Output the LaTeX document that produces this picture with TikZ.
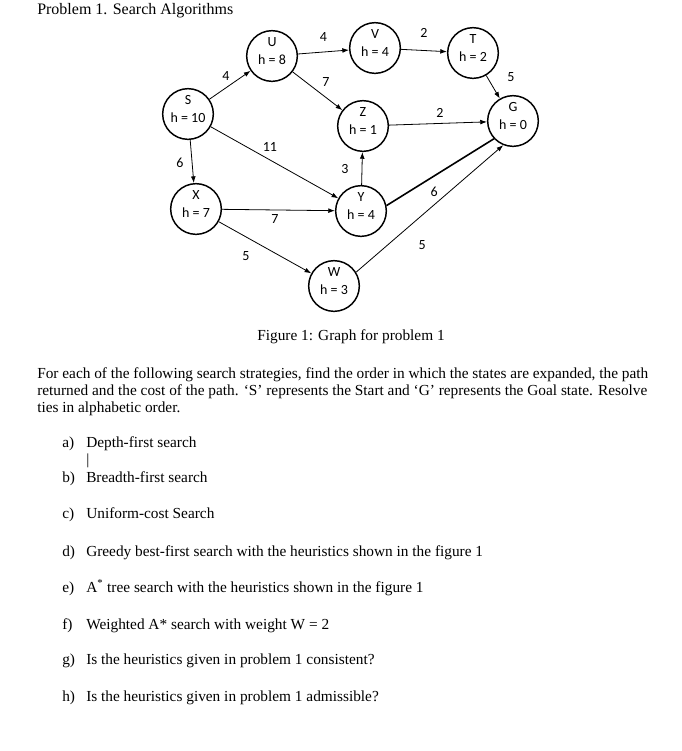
\documentclass[tikz,border=0pt]{standalone}
\usepackage{fontspec}
\setmainfont{Liberation Serif}
\newfontfamily\calfont{Carlito}
\usetikzlibrary{arrows.meta}

\begin{document}
\begin{tikzpicture}[
		x=0.75pt, y=-0.75pt,
		>={Latex[length=5pt,width=3.6pt]},
		state/.style={draw, circle, line width=1.1pt, minimum size=38pt, inner sep=0pt},
		statetext/.style={align=center, yshift=3.4pt, font=\calfont\fontsize{10.5}{13.5}\selectfont},
		cost/.style={font=\calfont\fontsize{10.5}{12}\selectfont, inner sep=0pt},
		edge/.style={->, line width=0.6pt},
		thickedge/.style={line width=1.2pt},
		body/.style={anchor=west, inner sep=0pt, align=left, font=\fontsize{11.5}{12.75}\selectfont},
		item/.style={body},
		]

		\useasboundingbox (0,0) rectangle (682,751);

		\node[body, font=\fontsize{12}{14}\selectfont] (title) at (37,11) {Problem 1. Search Algorithms};

		% states
		\node[state, label={[statetext]center:S\\h = 10}] (S) at (188,114) {};
		\node[state, label={[statetext]center:U\\h = 8}] (U) at (272,56) {};
		\node[state, label={[statetext]center:V\\h = 4}] (V) at (375,48) {};
		\node[state, label={[statetext]center:T\\h = 2}] (T) at (473,53) {};
		\node[state, label={[statetext]center:G\\h = 0}] (G) at (513,121) {};
		\node[state, label={[statetext]center:Z\\h = 1}] (Z) at (363,126) {};
		\node[state, label={[statetext]center:X\\h = 7}] (X) at (196,209) {};
		\node[state, label={[statetext]center:Y\\h = 4}] (Y) at (361,211) {};
		\node[state, label={[statetext]center:W\\h = 3}] (W) at (334,286) {};

		% edges with costs
		\draw[edge] (S) -- node[cost, xshift=-3pt, yshift=6.75pt] {4} (U);
		\draw[edge] (U) -- node[cost, yshift=11pt] {4} (V);
		\draw[edge] (V) -- node[cost, yshift=13.5pt] {2} (T);
		\draw[edge] (T) -- node[cost, xshift=13.5pt, yshift=7.5pt] {5} (G);
		\draw[edge] (U) -- node[cost, xshift=6.4pt, yshift=6.75pt] {7} (Z);
		\draw[edge] (Z) -- node[cost, xshift=1.5pt, yshift=7.9pt] {2} (G);
		\draw[edge] (S) -- node[cost, xshift=-3.4pt, yshift=11.6pt] {11} (Y);
		\draw[edge] (S) -- node[cost, xshift=-9pt, yshift=-1pt] {6} (X);
		\draw[edge] (Y) -- node[cost, xshift=-12.75pt] {3} (Z);
		\draw[thickedge] (Y.12) -- node[cost, xshift=-4.5pt, yshift=-15pt] {6} (G.223);
		\draw[edge] (X) -- node[cost, xshift=-2.6pt, yshift=-6.75pt] {7} (Y);
		\draw[edge] (X) -- node[cost, xshift=-14.25pt, yshift=-6.4pt] {5} (W);
		\draw[edge] (W.32) -- node[cost, xshift=-5.6pt, yshift=-27.4pt] {5} (G.248);

		\node[body, anchor=center] (caption) at (351,337) {Figure 1: Graph for problem 1};

		\node[body] (intro) at (37,392) {For each of the following search strategies, find the order in which the states are expanded, the path\\
			returned and the cost of the path. ‘S’ represents the Start and ‘G’ represents the Goal state. Resolve\\
			ties in alphabetic order.};

		% questions
		\node[item] (qa) at (62,444) {\makebox[18pt][l]{a)}Depth-first search};
		\node[item] (cursor) at (86,461) {|};
		\node[item] (qb) at (62,479) {\makebox[18pt][l]{b)}Breadth-first search};
		\node[item] (qc) at (62,515) {\makebox[18pt][l]{c)}Uniform-cost Search};
		\node[item] (qd) at (62,553) {\makebox[18pt][l]{d)}Greedy best-first search with the heuristics shown in the figure 1};
		\node[item] (qe) at (62,588) {\makebox[18pt][l]{e)}A\textsuperscript{*} tree search with the heuristics shown in the figure 1};
		\node[item] (qf) at (62,626) {\makebox[18pt][l]{f)}Weighted A* search with weight W = 2};
		\node[item] (qg) at (62,661) {\makebox[18pt][l]{g)}Is the heuristics given in problem 1 consistent?};
		\node[item] (qh) at (62,698) {\makebox[18pt][l]{h)}Is the heuristics given in problem 1 admissible?};
	\end{tikzpicture}
\end{document}
